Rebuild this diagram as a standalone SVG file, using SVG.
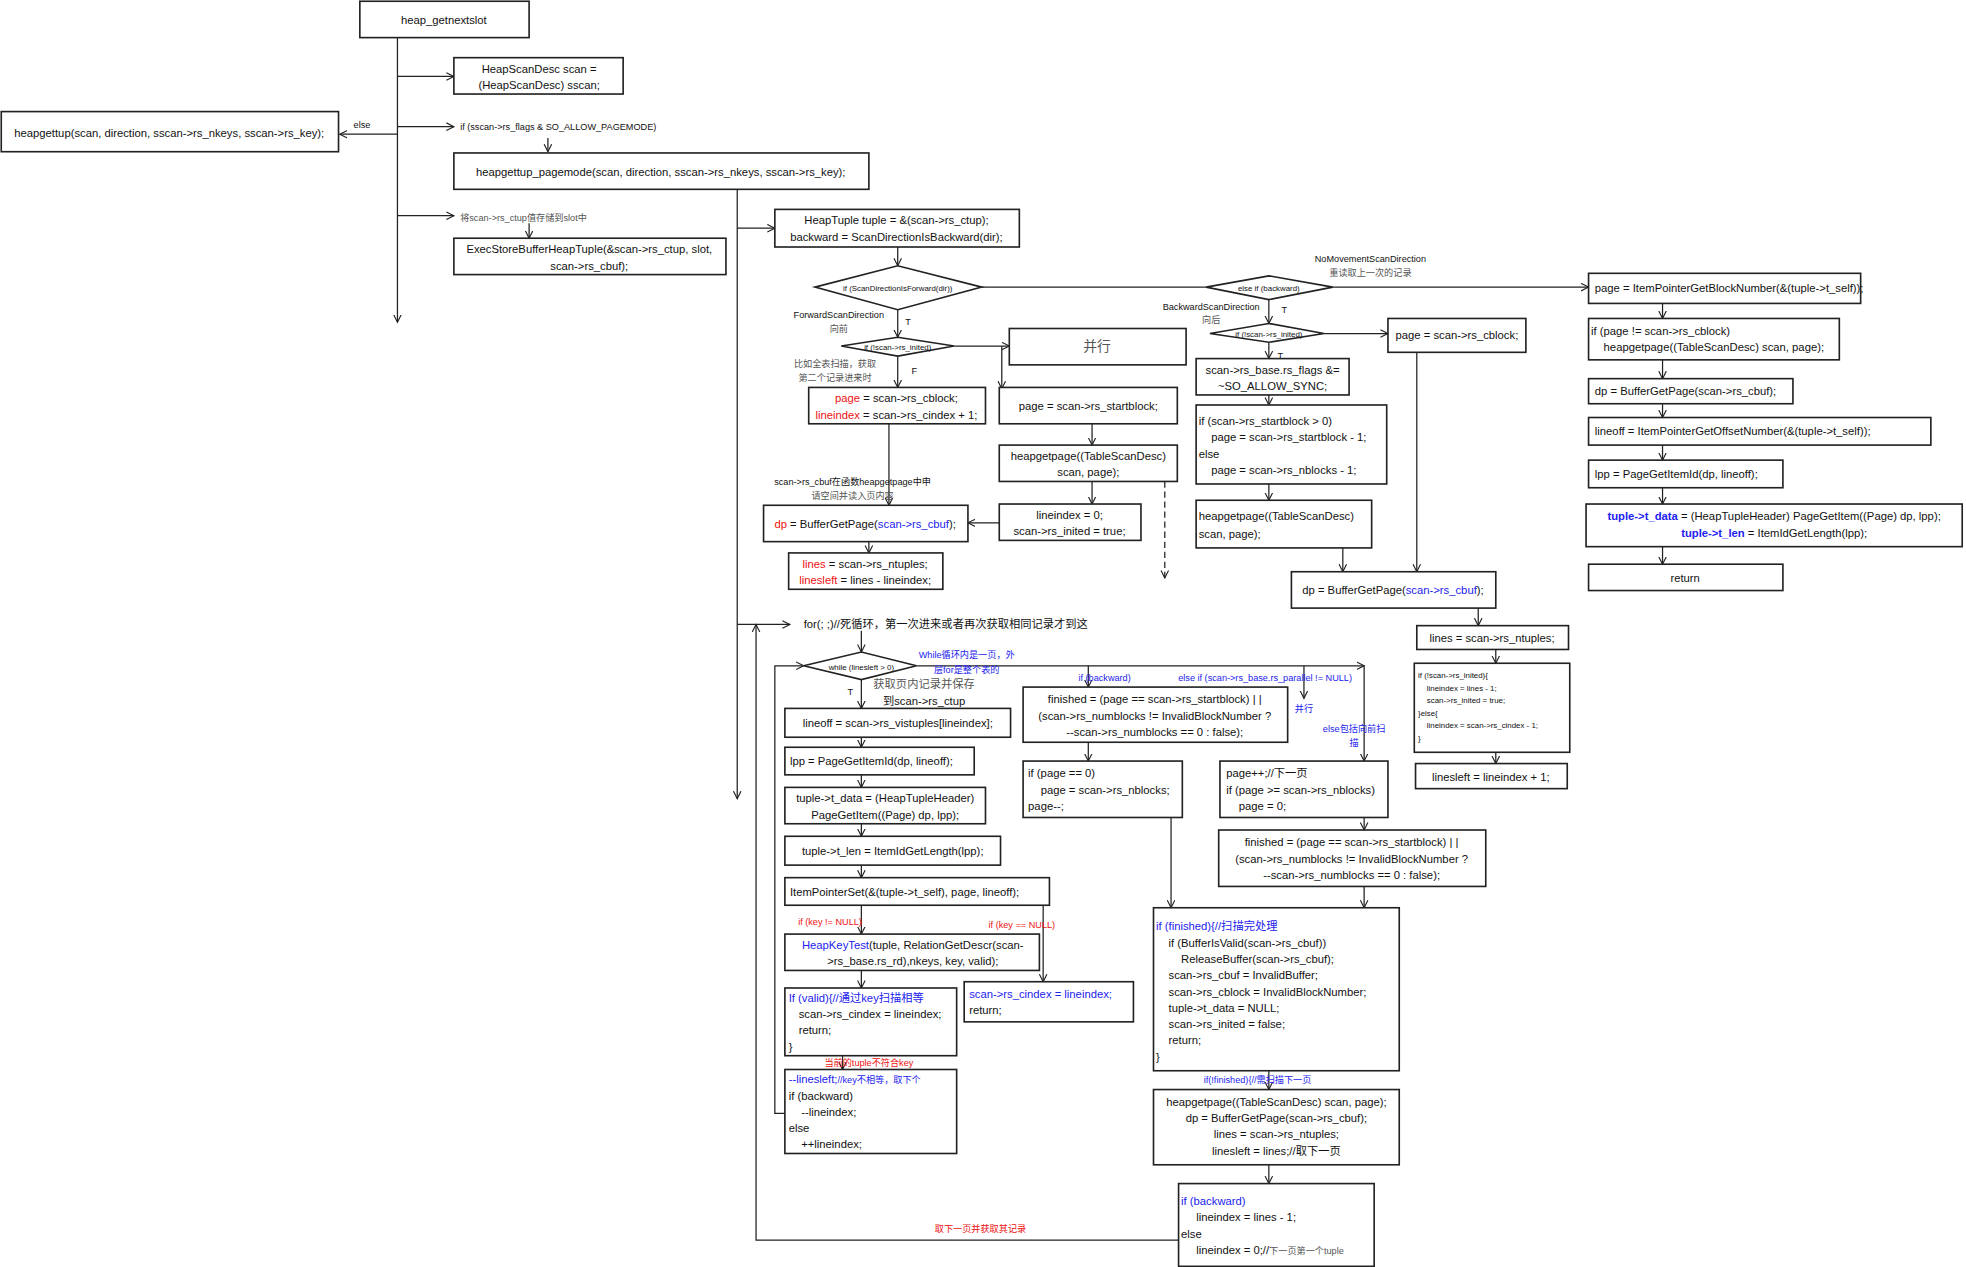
<svg xmlns="http://www.w3.org/2000/svg" width="1966" height="1267" viewBox="0 0 1966 1267">
<style>
.b{fill:#fff;stroke:#222;stroke-width:1.3}
.l{fill:none;stroke:#222;stroke-width:1}
.d{fill:none;stroke:#222;stroke-width:1;stroke-dasharray:5,3}
text{font-family:"Liberation Sans","Noto Sans CJK SC",sans-serif;font-size:9px;fill:#111}
.m{text-anchor:middle}
.s{font-size:7.3px}
.xs{font-size:6.3px}
.r{fill:#ee1111}
.u{fill:#2222ee}
.g{fill:#555}
.bb{font-weight:bold}
</style>
<defs>
<marker id="a" markerWidth="8" markerHeight="8" refX="6" refY="3.5" orient="auto" markerUnits="userSpaceOnUse"><path d="M0,0.5 L6,3.5 L0,6.5" fill="none" stroke="#222" stroke-width="0.9"/></marker>
</defs>
<rect width="1966" height="1267" fill="#fff"/>
<g transform="scale(1.2538)">
<g id="connectors">
<path class="l" d="M317,30 V257" marker-end="url(#a)"/>
<path class="l" d="M317,61 H362" marker-end="url(#a)"/>
<path class="l" d="M317,107 H271" marker-end="url(#a)"/>
<path class="l" d="M317,101 H362" marker-end="url(#a)"/>
<path class="l" d="M437,110 V121" marker-end="url(#a)"/>
<path class="l" d="M317,172 H362" marker-end="url(#a)"/>
<path class="l" d="M422,178 V190" marker-end="url(#a)"/>
<path class="l" d="M588,151 V637" marker-end="url(#a)"/>
<path class="l" d="M588,182 H618" marker-end="url(#a)"/>
<path class="l" d="M588,498 H630" marker-end="url(#a)"/>
<path class="l" d="M716,197 V212" marker-end="url(#a)"/>
<path class="l" d="M783,229 H962"/>
<path class="l" d="M1063,229 H1267" marker-end="url(#a)"/>
<path class="l" d="M716,247 V269" marker-end="url(#a)"/>
<path class="l" d="M761,276 H805" marker-end="url(#a)"/>
<path class="l" d="M799,276 V310" marker-end="url(#a)"/>
<path class="l" d="M716,284 V309" marker-end="url(#a)"/>
<path class="l" d="M709,338 V403" marker-end="url(#a)"/>
<path class="l" d="M693,432 V441" marker-end="url(#a)"/>
<path class="l" d="M871,338 V355" marker-end="url(#a)"/>
<path class="l" d="M871,384 V402" marker-end="url(#a)"/>
<path class="l" d="M797,417 H772" marker-end="url(#a)"/>
<path class="d" d="M929,384 V461" marker-end="url(#a)"/>
<path class="l" d="M1012,239 V258" marker-end="url(#a)"/>
<path class="l" d="M1056,266 H1107" marker-end="url(#a)"/>
<path class="l" d="M1012,273 V286" marker-end="url(#a)"/>
<path class="l" d="M1012,315 V323" marker-end="url(#a)"/>
<path class="l" d="M1012,386 V399" marker-end="url(#a)"/>
<path class="l" d="M1071,437 V456" marker-end="url(#a)"/>
<path class="l" d="M1130,281 V456" marker-end="url(#a)"/>
<path class="l" d="M1179,485 V499" marker-end="url(#a)"/>
<path class="l" d="M1193,518 V529" marker-end="url(#a)"/>
<path class="l" d="M1193,600 V609" marker-end="url(#a)"/>
<path class="l" d="M1326,242 V254" marker-end="url(#a)"/>
<path class="l" d="M1326,287 V302" marker-end="url(#a)"/>
<path class="l" d="M1326,322 V333" marker-end="url(#a)"/>
<path class="l" d="M1326,355 V367" marker-end="url(#a)"/>
<path class="l" d="M1326,389 V402" marker-end="url(#a)"/>
<path class="l" d="M1326,436 V450" marker-end="url(#a)"/>
<path class="l" d="M940,989 H603 V498" marker-end="url(#a)"/>
<path class="l" d="M687,503 V520" marker-end="url(#a)"/>
<path class="l" d="M731,531 H1088" marker-end="url(#a)"/>
<path class="l" d="M1088,531 V607" marker-end="url(#a)"/>
<path class="l" d="M868,531 V548" marker-end="url(#a)"/>
<path class="l" d="M1040,531 V557" marker-end="url(#a)"/>
<path class="l" d="M687,542 V565" marker-end="url(#a)"/>
<path class="l" d="M687,588 V596" marker-end="url(#a)"/>
<path class="l" d="M687,618 V628" marker-end="url(#a)"/>
<path class="l" d="M687,657 V667" marker-end="url(#a)"/>
<path class="l" d="M687,690 V700" marker-end="url(#a)"/>
<path class="l" d="M687,722 V745" marker-end="url(#a)"/>
<path class="l" d="M832,722 V783" marker-end="url(#a)"/>
<path class="l" d="M687,774 V788" marker-end="url(#a)"/>
<path class="l" d="M672,842 V853" marker-end="url(#a)"/>
<path class="l" d="M626,888 H618 V531 H641" marker-end="url(#a)"/>
<path class="l" d="M868,592 V607" marker-end="url(#a)"/>
<path class="l" d="M934,652 V724" marker-end="url(#a)"/>
<path class="l" d="M1088,652 V662" marker-end="url(#a)"/>
<path class="l" d="M1088,707 V724" marker-end="url(#a)"/>
<path class="l" d="M1012,854 V869" marker-end="url(#a)"/>
<path class="l" d="M1012,929 V944" marker-end="url(#a)"/>
<text x="282" y="102" class="s">else</text>
<text x="367" y="104" class="s">if (sscan-&gt;rs_flags &amp; SO_ALLOW_PAGEMODE)</text>
<text x="367" y="176" class="s g">将scan-&gt;rs_ctup值存储到slot中</text>
<text x="1093" y="209" class="s m">NoMovementScanDirection</text>
<text x="1093" y="220" class="s m g">重读取上一次的记录</text>
<text x="669" y="254" class="s m">ForwardScanDirection</text>
<text x="669" y="265" class="s m g">向前</text>
<text x="722" y="259" class="s">T</text>
<text x="666" y="293" class="s m g">比如全表扫描，获取</text>
<text x="666" y="304" class="s m g">第二个记录进来时</text>
<text x="727" y="298" class="s">F</text>
<text x="680" y="387" class="s m">scan-&gt;rs_cbuf在函数heapgetpage中申</text>
<text x="680" y="398" class="s m g">请空间并读入页内容</text>
<text x="966" y="247" class="s m">BackwardScanDirection</text>
<text x="966" y="258" class="s m g">向后</text>
<text x="1022" y="250" class="s">T</text>
<text x="1019" y="286" class="s">T</text>
<text x="641" y="501">for(; ;)//死循环，第一次进来或者再次获取相同记录才到这</text>
<text x="771" y="525" class="s m u">While循环内是一页，外</text>
<text x="771" y="537" class="s m u">层for是整个表的</text>
<text x="676" y="554" class="s">T</text>
<text x="737" y="549" class="m g">获取页内记录并保存</text>
<text x="737" y="562" class="m">到scan-&gt;rs_ctup</text>
<text x="881" y="543" class="s m u">if (backward)</text>
<text x="1009" y="543" class="s m u">else if (scan-&gt;rs_base.rs_parallel != NULL)</text>
<text x="1040" y="568" class="s m u">并行</text>
<text x="1080" y="584" class="s m u">else包括向前扫</text>
<text x="1080" y="595" class="s m u">描</text>
<text x="662" y="738" class="s m r">if (key != NULL)</text>
<text x="815" y="740" class="s m r">if (key == NULL)</text>
<text x="693" y="850" class="s m r">当前的tuple不符合key</text>
<text x="1003" y="864" class="s m u">if(!finished){//需扫描下一页</text>
<text x="782" y="983" class="s m r">取下一页并获取其记录</text>
</g>
<g id="n1"><rect class="b" x="287" y="1" width="135" height="29"/><text x="354" y="19" class="m">heap_getnextslot</text></g>
<g id="n2"><rect class="b" x="362" y="46" width="135" height="29"/><text x="430" y="58" class="m">HeapScanDesc scan =</text><text x="430" y="71" class="m">(HeapScanDesc) sscan;</text></g>
<g id="n3"><rect class="b" x="1" y="89" width="269" height="32"/><text x="135" y="109" class="m">heapgettup(scan, direction, sscan-&gt;rs_nkeys, sscan-&gt;rs_key);</text></g>
<g id="n4"><rect class="b" x="362" y="122" width="331" height="29"/><text x="527" y="140" class="m">heapgettup_pagemode(scan, direction, sscan-&gt;rs_nkeys, sscan-&gt;rs_key);</text></g>
<g id="n5"><rect class="b" x="362" y="190" width="217" height="29"/><text x="470" y="202" class="m">ExecStoreBufferHeapTuple(&amp;scan-&gt;rs_ctup, slot,</text><text x="470" y="215" class="m">scan-&gt;rs_cbuf);</text></g>
<g id="n6"><rect class="b" x="618" y="167" width="195" height="30"/><text x="715" y="179" class="m">HeapTuple tuple = &amp;(scan-&gt;rs_ctup);</text><text x="715" y="192" class="m">backward = ScanDirectionIsBackward(dir);</text></g>
<g id="n7"><polygon class="b" points="650,229 716,212 783,229 716,247"/><text x="716" y="232" class="xs m">if (ScanDirectionIsForward(dir))</text></g>
<g id="n8"><polygon class="b" points="962,229 1012,220 1063,229 1012,239"/><text x="1012" y="232" class="xs m">else if (backward)</text></g>
<g id="n9"><polygon class="b" points="671,276 716,269 761,276 716,284"/><text x="716" y="279" class="xs m">if (!scan-&gt;rs_inited)</text></g>
<g id="n10"><rect class="b" x="805" y="262" width="141" height="29"/><text x="875" y="280" class="m g" style="font-size:11px">并行</text></g>
<g id="n11"><rect class="b" x="645" y="309" width="141" height="29"/><text x="715" y="321" class="m"><tspan class="r">page</tspan> = scan-&gt;rs_cblock;</text><text x="715" y="334" class="m"><tspan class="r">lineindex</tspan> = scan-&gt;rs_cindex + 1;</text></g>
<g id="n12"><rect class="b" x="609" y="403" width="163" height="29"/><text x="690" y="421" class="m"><tspan class="r">dp</tspan> = BufferGetPage(<tspan class="u">scan-&gt;rs_cbuf</tspan>);</text></g>
<g id="n13"><rect class="b" x="629" y="441" width="123" height="29"/><text x="690" y="453" class="m"><tspan class="r">lines</tspan> = scan-&gt;rs_ntuples;</text><text x="690" y="466" class="m"><tspan class="r">linesleft</tspan> = lines - lineindex;</text></g>
<g id="n14"><rect class="b" x="797" y="309" width="142" height="29"/><text x="868" y="327" class="m">page = scan-&gt;rs_startblock;</text></g>
<g id="n15"><rect class="b" x="797" y="355" width="142" height="29"/><text x="868" y="367" class="m">heapgetpage((TableScanDesc)</text><text x="868" y="380" class="m">scan, page);</text></g>
<g id="n16"><rect class="b" x="797" y="402" width="113" height="29"/><text x="853" y="414" class="m">lineindex = 0;</text><text x="853" y="427" class="m">scan-&gt;rs_inited = true;</text></g>
<g id="n17"><polygon class="b" points="965,266 1012,258 1056,266 1012,273"/><text x="1012" y="269" class="xs m">if (!scan-&gt;rs_inited)</text></g>
<g id="n18"><rect class="b" x="1107" y="254" width="110" height="27"/><text x="1162" y="270" class="m">page = scan-&gt;rs_cblock;</text></g>
<g id="n19"><rect class="b" x="954" y="286" width="122" height="29"/><text x="1015" y="298" class="m">scan-&gt;rs_base.rs_flags &amp;=</text><text x="1015" y="311" class="m">~SO_ALLOW_SYNC;</text></g>
<g id="n20"><rect class="b" x="954" y="323" width="152" height="63"/><text x="956" y="339">if (scan-&gt;rs_startblock &gt; 0)</text><text x="966" y="352">page = scan-&gt;rs_startblock - 1;</text><text x="956" y="365">else</text><text x="966" y="378">page = scan-&gt;rs_nblocks - 1;</text></g>
<g id="n21"><rect class="b" x="954" y="399" width="140" height="38"/><text x="956" y="415">heapgetpage((TableScanDesc)</text><text x="956" y="429">scan, page);</text></g>
<g id="n22"><rect class="b" x="1030" y="456" width="163" height="29"/><text x="1111" y="474" class="m">dp = BufferGetPage(<tspan class="u">scan-&gt;rs_cbuf</tspan>);</text></g>
<g id="n23"><rect class="b" x="1130" y="499" width="121" height="19"/><text x="1190" y="512" class="m">lines = scan-&gt;rs_ntuples;</text></g>
<g id="n24"><rect class="b" x="1128" y="529" width="124" height="71"/><text x="1131" y="541" class="xs">if (!scan-&gt;rs_inited){</text><text x="1138" y="551" class="xs">lineindex = lines - 1;</text><text x="1138" y="561" class="xs">scan-&gt;rs_inited = true;</text><text x="1131" y="571" class="xs">}else{</text><text x="1138" y="581" class="xs">lineindex = scan-&gt;rs_cindex - 1;</text><text x="1131" y="591" class="xs">}</text></g>
<g id="n25"><rect class="b" x="1129" y="609" width="121" height="20"/><text x="1189" y="623" class="m">linesleft = lineindex + 1;</text></g>
<g id="n26"><rect class="b" x="1267" y="218" width="217" height="24"/><text x="1272" y="233">page = ItemPointerGetBlockNumber(&amp;(tuple-&gt;t_self));</text></g>
<g id="n27"><rect class="b" x="1267" y="254" width="200" height="33"/><text x="1269" y="267">if (page != scan-&gt;rs_cblock)</text><text x="1279" y="280">heapgetpage((TableScanDesc) scan, page);</text></g>
<g id="n28"><rect class="b" x="1267" y="302" width="163" height="20"/><text x="1272" y="315">dp = BufferGetPage(scan-&gt;rs_cbuf);</text></g>
<g id="n29"><rect class="b" x="1267" y="333" width="273" height="22"/><text x="1272" y="347">lineoff = ItemPointerGetOffsetNumber(&amp;(tuple-&gt;t_self));</text></g>
<g id="n30"><rect class="b" x="1267" y="367" width="155" height="22"/><text x="1272" y="381">lpp = PageGetItemId(dp, lineoff);</text></g>
<g id="n31"><rect class="b" x="1265" y="402" width="300" height="34"/><text x="1415" y="415" class="m"><tspan class="u bb">tuple-&gt;t_data</tspan> = (HeapTupleHeader) PageGetItem((Page) dp, lpp);</text><text x="1415" y="428" class="m"><tspan class="u bb">tuple-&gt;t_len</tspan> = ItemIdGetLength(lpp);</text></g>
<g id="n32"><rect class="b" x="1267" y="450" width="155" height="21"/><text x="1344" y="464" class="m">return</text></g>
<g id="n33"><polygon class="b" points="641,531 687,520 731,531 687,542"/><text x="687" y="534" class="xs m">while (linesleft &gt; 0)</text></g>
<g id="n34"><rect class="b" x="626" y="565" width="180" height="23"/><text x="716" y="580" class="m">lineoff = scan-&gt;rs_vistuples[lineindex];</text></g>
<g id="n35"><rect class="b" x="626" y="596" width="151" height="22"/><text x="630" y="610">lpp = PageGetItemId(dp, lineoff);</text></g>
<g id="n36"><rect class="b" x="626" y="628" width="160" height="29"/><text x="706" y="640" class="m">tuple-&gt;t_data = (HeapTupleHeader)</text><text x="706" y="653" class="m">PageGetItem((Page) dp, lpp);</text></g>
<g id="n37"><rect class="b" x="626" y="667" width="172" height="23"/><text x="712" y="682" class="m">tuple-&gt;t_len = ItemIdGetLength(lpp);</text></g>
<g id="n38"><rect class="b" x="626" y="700" width="211" height="22"/><text x="630" y="715">ItemPointerSet(&amp;(tuple-&gt;t_self), page, lineoff);</text></g>
<g id="n39"><rect class="b" x="626" y="745" width="203" height="29"/><text x="728" y="757" class="m"><tspan class="u">HeapKeyTest</tspan>(tuple, RelationGetDescr(scan-</text><text x="728" y="770" class="m">&gt;rs_base.rs_rd),nkeys, key, valid);</text></g>
<g id="n40"><rect class="b" x="626" y="788" width="137" height="54"/><text x="629" y="799" class="u">If (valid){//通过key扫描相等</text><text x="637" y="812">scan-&gt;rs_cindex = lineindex;</text><text x="637" y="825">return;</text><text x="629" y="838">}</text></g>
<g id="n41"><rect class="b" x="769" y="783" width="135" height="32"/><text x="773" y="796" class="u">scan-&gt;rs_cindex = lineindex;</text><text x="773" y="809">return;</text></g>
<g id="n42"><rect class="b" x="626" y="853" width="137" height="67"/><text x="629" y="864"><tspan class="u">--linesleft;</tspan><tspan class="s u">//key不相等，取下个</tspan></text><text x="629" y="877">if (backward)</text><text x="639" y="890">--lineindex;</text><text x="629" y="903">else</text><text x="639" y="916">++lineindex;</text></g>
<g id="n43"><rect class="b" x="816" y="548" width="211" height="44"/><text x="921" y="561" class="m">finished = (page == scan-&gt;rs_startblock) | |</text><text x="921" y="574" class="m">(scan-&gt;rs_numblocks != InvalidBlockNumber ?</text><text x="921" y="587" class="m">--scan-&gt;rs_numblocks == 0 : false);</text></g>
<g id="n44"><rect class="b" x="816" y="607" width="127" height="45"/><text x="820" y="620">if (page == 0)</text><text x="830" y="633">page = scan-&gt;rs_nblocks;</text><text x="820" y="646">page--;</text></g>
<g id="n45"><rect class="b" x="973" y="607" width="134" height="45"/><text x="978" y="620">page++;//下一页</text><text x="978" y="633">if (page &gt;= scan-&gt;rs_nblocks)</text><text x="988" y="646">page = 0;</text></g>
<g id="n46"><rect class="b" x="972" y="662" width="213" height="45"/><text x="1078" y="675" class="m">finished = (page == scan-&gt;rs_startblock) | |</text><text x="1078" y="688" class="m">(scan-&gt;rs_numblocks != InvalidBlockNumber ?</text><text x="1078" y="701" class="m">--scan-&gt;rs_numblocks == 0 : false);</text></g>
<g id="n47"><rect class="b" x="920" y="724" width="196" height="130"/><text x="922" y="742" class="u">if (finished){//扫描完处理</text><text x="932" y="755">if (BufferIsValid(scan-&gt;rs_cbuf))</text><text x="942" y="768">ReleaseBuffer(scan-&gt;rs_cbuf);</text><text x="932" y="781">scan-&gt;rs_cbuf = InvalidBuffer;</text><text x="932" y="794">scan-&gt;rs_cblock = InvalidBlockNumber;</text><text x="932" y="807">tuple-&gt;t_data = NULL;</text><text x="932" y="820">scan-&gt;rs_inited = false;</text><text x="932" y="833">return;</text><text x="922" y="846">}</text></g>
<g id="n48"><rect class="b" x="920" y="869" width="196" height="60"/><text x="1018" y="882" class="m">heapgetpage((TableScanDesc) scan, page);</text><text x="1018" y="895" class="m">dp = BufferGetPage(scan-&gt;rs_cbuf);</text><text x="1018" y="908" class="m">lines = scan-&gt;rs_ntuples;</text><text x="1018" y="921" class="m">linesleft = lines;//取下一页</text></g>
<g id="n49"><rect class="b" x="940" y="944" width="156" height="66"/><text x="942" y="961" class="u">if (backward)</text><text x="954" y="974">lineindex = lines - 1;</text><text x="942" y="987">else</text><text x="954" y="1000">lineindex = 0;//<tspan class="s g">下一页第一个tuple</tspan></text></g>
</g>
</svg>
